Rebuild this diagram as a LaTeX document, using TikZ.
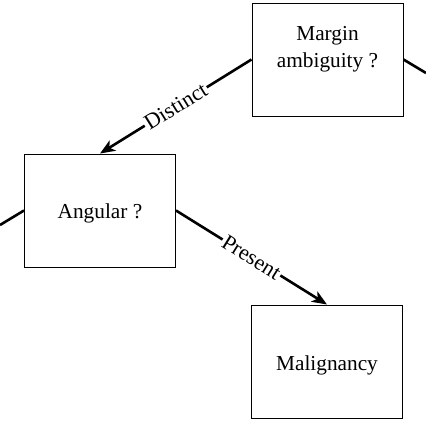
\documentclass[tikz,border=0pt]{standalone}
\usepackage{fontspec}
\setmainfont{Liberation Serif}
\usetikzlibrary{arrows.meta}
\begin{document}
\begin{tikzpicture}[x=1pt,y=1pt,
  box/.style={draw,line width=1pt,minimum width=151pt,minimum height=113pt,inner sep=0pt},
  txt/.style={anchor=base,inner sep=0pt,font=\fontsize{21.3}{26}\selectfont},
  conn/.style={line width=2.6pt,-{Stealth[length=15pt,width=12pt,inset=4pt]}},
  exitline/.style={line width=2.6pt},
  lbl/.style={fill=white,inner sep=1.5pt,sloped,font=\fontsize{22}{26}\selectfont}]
\useasboundingbox (0,-426) rectangle (426,0);
\node[box] (margin) at (327.5,-59.5) {};
\node[box] (angular) at (100,-210.5) {};
\node[box] (malig) at (327,-361.5) {};
\node[txt] (margintxt1) at (327.5,-40) {Margin};
\node[txt] (margintxt2) at (327.5,-67) {ambiguity ?};
\node[txt] (angulartxt) at (100,-218) {Angular ?};
\node[txt] (maligtxt) at (327,-370) {Malignancy};
\coordinate (exitR) at (426,-73);
\coordinate (exitL) at (0,-225);
\draw[conn] (margin.west) -- node[lbl] {Distinct} (angular.north);
\draw[conn] (angular.east) -- node[lbl] {Present} (malig.north);
\draw[exitline] (margin.east) -- (exitR);
\draw[exitline] (angular.west) -- (exitL);
\end{tikzpicture}
\end{document}
